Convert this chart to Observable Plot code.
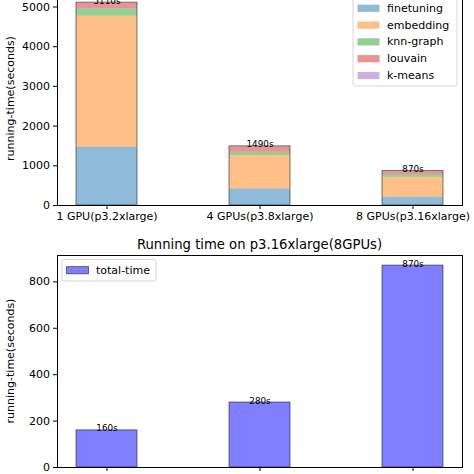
<!DOCTYPE html>
<html>
<head>
<meta charset="utf-8">
<script src="https://cdn.jsdelivr.net/npm/d3@7"></script>
<script src="https://cdn.jsdelivr.net/npm/@observablehq/plot@0.6"></script>
<style>
  html, body { margin: 0; padding: 0; background: #fff; }
  #fig { position: relative; width: 474px; height: 474px; overflow: hidden; background: #fff; }
  #fig svg { position: absolute; left: 0; font-family: "DejaVu Sans", sans-serif; color: #000; background: transparent; }
</style>
</head>
<body>
<div id="fig"></div>
<script>
// Per-stage running time on each instance type (seconds)
const instances = ["1 GPU(p3.2xlarge)", "4 GPUs(p3.8xlarge)", "8 GPUs(p3.16xlarge)"];
const stages = ["finetuning", "embedding", "knn-graph", "louvain", "k-means"];
const finetuning = [1470, 420, 210];
const embedding = [3300, 840, 500];
const knnGraph = [185, 80, 70];
const louvain = [145, 140, 80];
const kmeans = [10, 10, 10];
const totals = [5110, 1490, 870];

// Total time on the 8-GPU machine
const totalRuns = ["run 1", "run 2", "run 3"];
const totalTime = [160, 280, 870];
const yTicksTop = [0, 1000, 2000, 3000, 4000, 5000];
const yTicksBottom = [0, 200, 400, 600, 800];

const stageColors = ["#1f77b4", "#ff7f0e", "#2ca02c", "#d62728", "#9467bd"];

const stageSeries = [finetuning, embedding, knnGraph, louvain, kmeans];
const stacked = [];
instances.forEach((gpu, i) => {
  stages.forEach((stage, s) => stacked.push({gpu, stage, seconds: stageSeries[s][i]}));
});
const totalRows = instances.map((gpu, i) => ({gpu, total: totals[i]}));
const runRows = totalRuns.map((run, i) => ({run, time: totalTime[i]}));

const fig = d3.select("#fig");
const FONT = 11;

function yLabel(svg, cy) {
  svg.append("text")
    .attr("transform", `translate(10,${cy}) rotate(-90)`)
    .attr("text-anchor", "middle")
    .attr("dominant-baseline", "central")
    .attr("font-size", FONT)
    .attr("fill", "#000")
    .text("running-time(seconds)");
}

function legend(svg, x0, y0, w, h, rows, startY, step) {
  const g = svg.append("g").attr("text-anchor", "start");
  g.append("rect").attr("x", x0).attr("y", y0).attr("width", w).attr("height", h)
    .attr("rx", 2).attr("fill", "#fff").attr("fill-opacity", 0.8)
    .attr("stroke", "#d6d6d6").attr("stroke-width", 1);
  rows.forEach((r, i) => {
    const cy = startY + i * step;
    g.append("rect").attr("x", x0 + 4.5).attr("y", cy - 3.6).attr("width", 22).attr("height", 7.2)
      .attr("fill", r.color).attr("fill-opacity", 0.5)
      .attr("stroke", r.stroke || "none").attr("stroke-opacity", 0.5);
    g.append("text").attr("x", x0 + 34).attr("y", cy)
      .attr("text-anchor", "start")
      .attr("dominant-baseline", "central").attr("font-size", FONT).attr("fill", "#000")
      .text(r.label);
  });
}

const plain = d => String(d);

// Upper panel: stacked stage times
const stagePlot = Plot.plot({
  width: 474,
  height: 255,
  marginTop: 12,
  marginBottom: 30,
  marginLeft: 57,
  marginRight: 12,
  style: {fontFamily: "DejaVu Sans, sans-serif", fontSize: `${FONT}px`, color: "#000", background: "transparent"},
  x: {type: "band", domain: instances, paddingInner: 0.6, paddingOuter: 0.12, label: null},
  y: {domain: [0, d3.max(totals) * 1.05], label: null},
  color: {domain: stages, range: stageColors},
  marks: [
    Plot.barY(stacked, {x: "gpu", y: "seconds", fill: "stage", fillOpacity: 0.5, inset: 0}),
    Plot.barY(totalRows, {x: "gpu", y: "total", fill: "none", stroke: "#000", strokeOpacity: 0.5, strokeWidth: 1, inset: 0}),
    Plot.text(totalRows, {x: "gpu", y: "total", text: d => `${d.total}s`, lineAnchor: "bottom", dy: 1, fontSize: 8.8, fill: "#000"}),
    Plot.axisY({ticks: yTicksTop, tickFormat: plain, tickSize: 4, tickPadding: 3.5, fontSize: FONT, label: null}),
    Plot.axisX({tickSize: 4, tickPadding: 3, fontSize: FONT, label: null}),
    Plot.frame({stroke: "#000", strokeWidth: 1})
  ]
});
stagePlot.style.top = "-20px";
fig.node().appendChild(stagePlot);
const stageSvg = d3.select(stagePlot);
yLabel(stageSvg, 118.5);
legend(stageSvg, 353, 17, 104, 89,
  stages.map((s, i) => ({label: s, color: stageColors[i]})), 28.3, 16.8);

// Lower panel: total time on p3.16xlarge
const totalPlot = Plot.plot({
  width: 474,
  height: 267,
  marginTop: 25,
  marginBottom: 30,
  marginLeft: 57,
  marginRight: 12,
  style: {fontFamily: "DejaVu Sans, sans-serif", fontSize: `${FONT}px`, color: "#000", background: "transparent"},
  x: {type: "band", domain: totalRuns, paddingInner: 0.6, paddingOuter: 0.12, label: null},
  y: {domain: [0, d3.max(totalTime) * 1.05], label: null},
  marks: [
    Plot.barY(runRows, {x: "run", y: "time", fill: "#0000ff", fillOpacity: 0.5, stroke: "#000", strokeOpacity: 0.5, strokeWidth: 1, inset: 0}),
    Plot.text(runRows, {x: "run", y: "time", text: d => `${d.time}s`, lineAnchor: "bottom", dy: 1, fontSize: 8.8, fill: "#000"}),
    Plot.axisY({ticks: yTicksBottom, tickFormat: plain, tickSize: 4, tickPadding: 3.5, fontSize: FONT, label: null}),
    Plot.axisX({tickSize: 4, tickPadding: 3, fontSize: FONT, label: null, tickFormat: () => ""}),
    Plot.frame({stroke: "#000", strokeWidth: 1})
  ]
});
totalPlot.style.top = "230px";
fig.node().appendChild(totalPlot);
const totalSvg = d3.select(totalPlot);
totalSvg.append("text").attr("x", 259.5).attr("y", 19).attr("text-anchor", "middle")
  .attr("font-size", 13.2).attr("fill", "#000").text("Running time on p3.16xlarge(8GPUs)");
yLabel(totalSvg, 131);
legend(totalSvg, 62, 29.5, 94, 21.5, [{label: "total-time", color: "#0000ff", stroke: "#000"}], 40.2, 0);
</script>
</body>
</html>
